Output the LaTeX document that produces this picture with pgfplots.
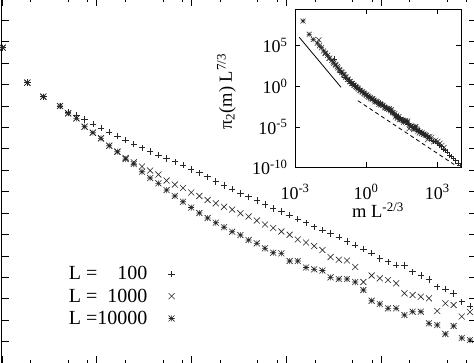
\documentclass[border=0pt]{standalone}
\usepackage{fontspec}
\setmainfont{Liberation Serif}
\usepackage{pgfplots}
\pgfplotsset{compat=1.18}
\usepackage{pgfplotstable}

\pgfdeclareplotmark{gpplus}{%
  \pgfpathmoveto{\pgfqpoint{-\pgfplotmarksize}{0pt}}%
  \pgfpathlineto{\pgfqpoint{\pgfplotmarksize}{0pt}}%
  \pgfpathmoveto{\pgfqpoint{0pt}{-\pgfplotmarksize}}%
  \pgfpathlineto{\pgfqpoint{0pt}{\pgfplotmarksize}}%
  \pgfusepathqstroke}
\pgfdeclareplotmark{gpcross}{%
  \pgfpathmoveto{\pgfqpoint{-\pgfplotmarksize}{-\pgfplotmarksize}}%
  \pgfpathlineto{\pgfqpoint{\pgfplotmarksize}{\pgfplotmarksize}}%
  \pgfpathmoveto{\pgfqpoint{-\pgfplotmarksize}{\pgfplotmarksize}}%
  \pgfpathlineto{\pgfqpoint{\pgfplotmarksize}{-\pgfplotmarksize}}%
  \pgfusepathqstroke}
\pgfdeclareplotmark{gpstar}{%
  \pgfpathmoveto{\pgfqpoint{-\pgfplotmarksize}{0pt}}%
  \pgfpathlineto{\pgfqpoint{\pgfplotmarksize}{0pt}}%
  \pgfpathmoveto{\pgfqpoint{0pt}{-\pgfplotmarksize}}%
  \pgfpathlineto{\pgfqpoint{0pt}{\pgfplotmarksize}}%
  \pgfpathmoveto{\pgfqpoint{-\pgfplotmarksize}{-\pgfplotmarksize}}%
  \pgfpathlineto{\pgfqpoint{\pgfplotmarksize}{\pgfplotmarksize}}%
  \pgfpathmoveto{\pgfqpoint{-\pgfplotmarksize}{\pgfplotmarksize}}%
  \pgfpathlineto{\pgfqpoint{\pgfplotmarksize}{-\pgfplotmarksize}}%
  \pgfusepathqstroke}

% log10(m)  log10(pi_2(m)),  L = 100
\pgfplotstableread{
logm logp
0.007 -1.275
0.267 -2.909
0.436 -3.563
0.612 -3.998
0.698 -4.301
0.785 -4.418
0.871 -4.619
0.958 -4.838
1.044 -5.025
1.131 -5.212
1.217 -5.399
1.304 -5.586
1.390 -5.773
1.477 -5.945
1.563 -6.114
1.650 -6.286
1.736 -6.440
1.823 -6.599
1.909 -6.753
1.996 -6.954
2.082 -7.113
2.169 -7.300
2.255 -7.515
2.342 -7.711
2.428 -7.884
2.515 -8.075
2.601 -8.234
2.688 -8.402
2.774 -8.589
2.861 -8.776
2.947 -8.925
3.034 -9.079
3.120 -9.276
3.207 -9.448
3.293 -9.635
3.380 -9.789
3.466 -9.944
3.553 -10.116
3.639 -10.317
3.726 -10.490
3.812 -10.677
3.899 -10.864
3.985 -11.111
4.072 -11.270
4.158 -11.424
4.245 -11.447
4.331 -11.737
4.418 -11.915
4.504 -12.092
4.591 -12.438
4.677 -12.545
4.764 -12.746
4.850 -13.138
4.937 -13.339
5.024 -13.52
5.110 -13.81
5.197 -14.11
5.283 -14.40
}\dataA

% L = 1000
\pgfplotstableread{
logm logp
0.007 -1.275
0.267 -2.909
0.436 -3.563
0.612 -3.998
0.698 -4.339
0.785 -4.572
0.871 -4.965
0.958 -5.245
1.044 -5.506
1.131 -5.852
1.217 -6.132
1.304 -6.426
1.390 -6.627
1.477 -6.823
1.563 -7.010
1.650 -7.197
1.736 -7.477
1.823 -7.664
1.909 -7.828
1.996 -8.038
2.082 -8.201
2.169 -8.388
2.255 -8.542
2.342 -8.706
2.428 -8.832
2.515 -9.009
2.601 -9.159
2.688 -9.346
2.774 -9.532
2.861 -9.696
2.947 -9.859
3.034 -10.009
3.120 -10.233
3.207 -10.373
3.293 -10.537
3.380 -10.723
3.466 -11.050
3.553 -11.177
3.639 -11.214
3.726 -11.517
3.812 -12.218
3.899 -11.915
3.985 -12.045
4.072 -12.125
4.158 -12.279
4.245 -12.746
4.331 -12.825
4.418 -12.905
4.504 -12.979
4.591 -13.573
4.677 -13.213
4.764 -13.292
4.850 -13.830
4.937 -13.619
5.024 -13.77
5.110 -14.02
5.197 -14.28
5.283 -14.53
}\dataB

% L = 10000
\pgfplotstableread{
logm logp
0.007 -1.275
0.267 -2.909
0.436 -3.563
0.612 -3.998
0.698 -4.339
0.785 -4.572
0.871 -4.965
0.958 -5.245
1.044 -5.506
1.131 -5.852
1.217 -6.132
1.304 -6.473
1.390 -6.707
1.477 -7.066
1.563 -7.361
1.650 -7.608
1.736 -7.921
1.823 -8.201
1.909 -8.468
1.996 -8.738
2.082 -8.995
2.169 -9.229
2.255 -9.448
2.342 -9.659
2.428 -9.869
2.515 -10.023
2.601 -10.256
2.688 -10.411
2.774 -10.644
2.861 -10.850
2.947 -10.878
3.034 -11.237
3.120 -11.237
3.207 -11.541
3.293 -11.625
3.380 -11.681
3.466 -11.999
3.553 -12.078
3.639 -12.078
3.726 -12.218
3.812 -12.592
3.899 -13.092
3.985 -13.246
4.072 -13.446
4.158 -13.446
4.245 -13.759
4.331 -13.605
4.418 -13.605
4.504 -14.147
4.591 -14.227
4.677 -14.647
4.764 -14.273
4.850 -14.834
4.937 -14.927
5.024 -15.05
5.110 -15.22
5.197 -15.39
5.283 -15.56
}\dataC

\begin{document}
\begin{tikzpicture}
\path[use as bounding box] (0,0) rectangle (474pt,362pt);
\begin{scope}[overlay]
\begin{axis}[
  at={(2pt,-1pt)}, anchor=south west,
  scale only axis, width=474pt, height=364pt,
  xmin=0, xmax=5, ymin=-16, ymax=1,
  xtick={0,1,2,3,4,5},
  minor xtick={0.301,0.699,0.903,1.301,1.699,1.903,2.301,2.699,2.903,3.301,3.699,3.903,4.301,4.699,4.903},
  ytick={-16,-15,...,1},
  xticklabels={}, yticklabels={},
  major tick length=7pt, minor tick length=3.5pt,
  axis line style={line width=1pt},
  every tick/.style={black, line width=0.8pt},
  legend plot pos=right,
  legend cell align=right,
  legend style={draw=none, fill=none, inner sep=0pt,
    at={(axis description cs:0.365,0.096)}, anchor=south east,
    font=\fontsize{20}{22}\selectfont, row sep=3.5pt, column sep=19pt,
    nodes={inner sep=2pt}},
]
\addplot[only marks, black!85, mark=gpplus, mark size=3.2pt, line width=0.6pt]
  table[x=logm, y=logp]{\dataA};
\addlegendentry{L =\makebox[2.5em][r]{100}}
\addplot[only marks, black!85, mark=gpcross, mark size=3pt, line width=0.6pt]
  table[x=logm, y=logp]{\dataB};
\addlegendentry{L =\makebox[2.5em][r]{1000}}
\addplot[only marks, black!85, mark=gpstar, mark size=3pt, line width=0.6pt]
  table[x=logm, y=logp]{\dataC};
\addlegendentry{L =\makebox[2.5em][r]{10000}}
\end{axis}

\begin{axis}[
  at={(295pt,194.5pt)}, anchor=south west,
  scale only axis, width=166pt, height=158.2pt,
  xmin=-3, xmax=4, ymin=-10, ymax=9.5,
  axis background/.style={fill=white},
  xtick={-3,0,3},
  xticklabels={10\textsuperscript{-3},10\textsuperscript{0},10\textsuperscript{3}},
  ytick={-10,-5,0,5},
  yticklabels={10\textsuperscript{-10},10\textsuperscript{-5},10\textsuperscript{0},10\textsuperscript{5}},
  major tick length=5pt,
  axis line style={line width=1pt},
  every tick/.style={black, line width=0.8pt},
  tick label style={font=\fontsize{18}{20}\selectfont},
  xticklabel style={anchor=base, yshift=-31.5pt},
  yticklabel style={anchor=east, xshift=-4pt},
  xlabel={m L\textsuperscript{-2/3}},
  ylabel={π\textsubscript{2}(m) L\textsuperscript{7/3}},
  label style={font=\fontsize{18.5}{20}\selectfont},
  xlabel style={at={(axis description cs:0.5,-0.319)}, anchor=base},
  ylabel style={at={(axis description cs:-0.380,0.479)}, anchor=base},
]
\addplot[only marks, black!85, mark=gpplus, mark size=2.5pt, line width=0.5pt]
  table[x expr=\thisrow{logm}-1.3333, y expr=\thisrow{logp}+4.6667]{\dataA};
\addplot[only marks, black!85, mark=gpcross, mark size=2.5pt, line width=0.5pt]
  table[x expr=\thisrow{logm}-2, y expr=\thisrow{logp}+7]{\dataB};
\addplot[only marks, black!85, mark=gpstar, mark size=2.5pt, line width=0.5pt]
  table[x expr=\thisrow{logm}-2.6667, y expr=\thisrow{logp}+9.3333]{\dataC};
\addplot[black, line width=0.8pt] coordinates {(-2.82,6.05) (-1.06,-0.11)};
\addplot[black, line width=0.8pt, dash pattern=on 4pt off 3pt] coordinates {(-0.35,-1.76) (3.71,-9.63)};
\end{axis}
\end{scope}
\end{tikzpicture}
\end{document}
